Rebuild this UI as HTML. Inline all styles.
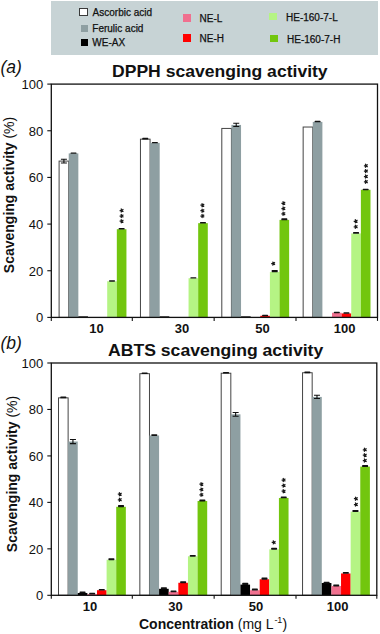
<!DOCTYPE html>
<html><head><meta charset="utf-8"><style>
html,body{margin:0;padding:0;background:#fff;width:380px;height:634px;overflow:hidden}
body{position:relative;font-family:"Liberation Sans",sans-serif;color:#111}
.t{position:absolute;white-space:nowrap;line-height:1}
.legend{position:absolute;left:51px;top:1px;width:327px;height:54px;background:#c7d3d5}
.sw{position:absolute;box-sizing:border-box}
.lt{position:absolute;font-size:10px;line-height:1;white-space:nowrap;color:#111;-webkit-text-stroke:0.25px #111}
svg{position:absolute;left:0;top:0}
</style></head><body>
<div class="legend">
 <div class="sw" style="left:28.2px;top:7.1px;width:8.7px;height:7.6px;background:#fff;border:1.2px solid #3a3a3a"></div>
 <div class="lt" style="left:41.6px;top:7.2px">Ascorbic acid</div>
 <div class="sw" style="left:30px;top:23.5px;width:7px;height:7px;background:#8e9fa2"></div>
 <div class="lt" style="left:41.3px;top:22.8px">Ferulic acid</div>
 <div class="sw" style="left:30px;top:38px;width:7px;height:7px;background:#000"></div>
 <div class="lt" style="left:41.3px;top:37.3px">WE-AX</div>
 <div class="sw" style="left:132px;top:13.3px;width:7.5px;height:7.5px;background:#f0708f"></div>
 <div class="lt" style="left:148.5px;top:12.8px">NE-L</div>
 <div class="sw" style="left:132px;top:33.1px;width:7.5px;height:7.5px;background:#ff0000"></div>
 <div class="lt" style="left:148.5px;top:32.5px">NE-H</div>
 <div class="sw" style="left:218px;top:11.5px;width:8px;height:7.5px;background:#b5f484"></div>
 <div class="lt" style="left:235px;top:11.9px">HE-160-7-L</div>
 <div class="sw" style="left:219px;top:33.7px;width:7.5px;height:7.5px;background:#72c60e"></div>
 <div class="lt" style="left:236px;top:33.5px">HE-160-7-H</div>
</div>
<div class="t" style="left:0.5px;top:58.5px;font-size:17.5px;font-style:italic">(a)</div>
<div class="t" style="left:112.2px;top:63.3px;font-size:16.5px;font-weight:bold;transform:scaleX(1.064);transform-origin:0 0">DPPH scavenging activity</div>
<div class="t" style="left:0.5px;top:335.4px;font-size:17.5px;font-style:italic">(b)</div>
<div class="t" style="left:107.8px;top:341.9px;font-size:16.5px;font-weight:bold;transform:scaleX(1.067);transform-origin:0 0">ABTS scavenging activity</div>
<svg width="380" height="634" viewBox="0 0 380 634">
<rect x="59.10" y="161.09" width="9.62" height="156.31" fill="#fff" stroke="#444" stroke-width="1"/>
<rect x="68.72" y="153.39" width="9.62" height="164.01" fill="#8e9fa2"/>
<rect x="78.34" y="316.35" width="9.62" height="1.05" fill="#000000"/>
<rect x="107.20" y="281.24" width="9.62" height="36.16" fill="#b5f484"/>
<rect x="116.82" y="229.21" width="9.62" height="88.19" fill="#72c60e"/>
<rect x="140.45" y="139.16" width="9.62" height="178.24" fill="#fff" stroke="#444" stroke-width="1"/>
<rect x="150.07" y="142.89" width="9.62" height="174.51" fill="#8e9fa2"/>
<rect x="159.69" y="316.35" width="9.62" height="1.05" fill="#000000"/>
<rect x="188.55" y="278.21" width="9.62" height="39.19" fill="#b5f484"/>
<rect x="198.17" y="223.15" width="9.62" height="94.25" fill="#72c60e"/>
<rect x="221.80" y="128.43" width="9.62" height="188.97" fill="#fff" stroke="#444" stroke-width="1"/>
<rect x="231.42" y="124.93" width="9.62" height="192.47" fill="#8e9fa2"/>
<rect x="241.04" y="316.35" width="9.62" height="1.05" fill="#000000"/>
<rect x="260.28" y="315.77" width="9.62" height="1.63" fill="#ff0000"/>
<rect x="269.90" y="271.91" width="9.62" height="45.49" fill="#b5f484"/>
<rect x="279.52" y="219.88" width="9.62" height="97.52" fill="#72c60e"/>
<rect x="303.15" y="127.03" width="9.62" height="190.37" fill="#fff" stroke="#444" stroke-width="1"/>
<rect x="312.77" y="121.89" width="9.62" height="195.51" fill="#8e9fa2"/>
<rect x="332.01" y="312.73" width="9.62" height="4.67" fill="#f0708f"/>
<rect x="341.63" y="313.43" width="9.62" height="3.97" fill="#ff0000"/>
<rect x="351.25" y="233.41" width="9.62" height="83.99" fill="#b5f484"/>
<rect x="360.87" y="189.78" width="9.62" height="127.62" fill="#72c60e"/>
<path d="M60.91 159.22H66.91M63.91 159.22V162.96M60.91 162.96H66.91" stroke="#111" stroke-width="1.1" fill="none"/>
<rect x="70.53" y="152.44" width="6" height="1.35" rx="0.6" fill="#111"/>
<rect x="109.01" y="280.17" width="6" height="1.47" rx="0.6" fill="#111"/>
<rect x="118.63" y="227.91" width="6" height="1.70" rx="0.6" fill="#111"/>
<rect x="142.26" y="137.63" width="6" height="1.93" rx="0.6" fill="#111"/>
<rect x="151.88" y="141.94" width="6" height="1.35" rx="0.6" fill="#111"/>
<rect x="190.36" y="277.14" width="6" height="1.47" rx="0.6" fill="#111"/>
<rect x="199.98" y="222.08" width="6" height="1.47" rx="0.6" fill="#111"/>
<path d="M233.23 123.29H239.23M236.23 123.29V126.56M233.23 126.56H239.23" stroke="#111" stroke-width="1.1" fill="none"/>
<rect x="262.09" y="314.70" width="6" height="1.47" rx="0.6" fill="#111"/>
<rect x="271.71" y="269.91" width="6" height="2.40" rx="0.6" fill="#111"/>
<rect x="281.33" y="218.35" width="6" height="1.93" rx="0.6" fill="#111"/>
<rect x="314.58" y="120.83" width="6" height="1.47" rx="0.6" fill="#111"/>
<rect x="333.82" y="311.67" width="6" height="1.47" rx="0.6" fill="#111"/>
<rect x="343.44" y="312.37" width="6" height="1.47" rx="0.6" fill="#111"/>
<rect x="353.06" y="231.88" width="6" height="1.93" rx="0.6" fill="#111"/>
<rect x="362.68" y="188.72" width="6" height="1.47" rx="0.6" fill="#111"/>
<rect x="58.50" y="397.85" width="9.62" height="197.45" fill="#fff" stroke="#444" stroke-width="1"/>
<rect x="68.12" y="441.52" width="9.62" height="153.78" fill="#8e9fa2"/>
<rect x="77.74" y="592.98" width="9.62" height="2.32" fill="#000000"/>
<rect x="87.36" y="594.14" width="9.62" height="1.16" fill="#f0708f"/>
<rect x="96.98" y="590.19" width="9.62" height="5.11" fill="#ff0000"/>
<rect x="106.60" y="559.76" width="9.62" height="35.54" fill="#b5f484"/>
<rect x="116.22" y="506.79" width="9.62" height="88.51" fill="#72c60e"/>
<rect x="139.85" y="373.69" width="9.62" height="221.61" fill="#fff" stroke="#444" stroke-width="1"/>
<rect x="149.47" y="435.48" width="9.62" height="159.82" fill="#8e9fa2"/>
<rect x="159.09" y="588.80" width="9.62" height="6.50" fill="#000000"/>
<rect x="168.71" y="591.82" width="9.62" height="3.48" fill="#f0708f"/>
<rect x="178.33" y="582.76" width="9.62" height="12.54" fill="#ff0000"/>
<rect x="187.95" y="556.27" width="9.62" height="39.03" fill="#b5f484"/>
<rect x="197.57" y="500.99" width="9.62" height="94.31" fill="#72c60e"/>
<rect x="221.20" y="373.22" width="9.62" height="222.08" fill="#fff" stroke="#444" stroke-width="1"/>
<rect x="230.82" y="414.34" width="9.62" height="180.96" fill="#8e9fa2"/>
<rect x="240.44" y="584.61" width="9.62" height="10.69" fill="#000000"/>
<rect x="250.06" y="590.19" width="9.62" height="5.11" fill="#f0708f"/>
<rect x="259.68" y="579.27" width="9.62" height="16.03" fill="#ff0000"/>
<rect x="269.30" y="549.30" width="9.62" height="46.00" fill="#b5f484"/>
<rect x="278.92" y="497.97" width="9.62" height="97.33" fill="#72c60e"/>
<rect x="302.55" y="372.76" width="9.62" height="222.54" fill="#fff" stroke="#444" stroke-width="1"/>
<rect x="312.17" y="396.92" width="9.62" height="198.38" fill="#8e9fa2"/>
<rect x="321.79" y="582.99" width="9.62" height="12.31" fill="#000000"/>
<rect x="331.41" y="586.01" width="9.62" height="9.29" fill="#f0708f"/>
<rect x="341.03" y="573.46" width="9.62" height="21.84" fill="#ff0000"/>
<rect x="350.65" y="511.67" width="9.62" height="83.63" fill="#b5f484"/>
<rect x="360.27" y="466.61" width="9.62" height="128.69" fill="#72c60e"/>
<rect x="60.31" y="396.55" width="6" height="1.70" rx="0.6" fill="#111"/>
<path d="M69.93 439.43H75.93M72.93 439.43V443.61M69.93 443.61H75.93" stroke="#111" stroke-width="1.1" fill="none"/>
<rect x="79.55" y="591.45" width="6" height="1.93" rx="0.6" fill="#111"/>
<rect x="89.17" y="592.84" width="6" height="1.70" rx="0.6" fill="#111"/>
<rect x="98.79" y="588.89" width="6" height="1.70" rx="0.6" fill="#111"/>
<rect x="108.41" y="558.23" width="6" height="1.93" rx="0.6" fill="#111"/>
<rect x="118.03" y="505.03" width="6" height="2.16" rx="0.6" fill="#111"/>
<rect x="141.66" y="372.39" width="6" height="1.70" rx="0.6" fill="#111"/>
<rect x="151.28" y="434.18" width="6" height="1.70" rx="0.6" fill="#111"/>
<rect x="160.90" y="587.27" width="6" height="1.93" rx="0.6" fill="#111"/>
<rect x="170.52" y="590.52" width="6" height="1.70" rx="0.6" fill="#111"/>
<rect x="180.14" y="581.23" width="6" height="1.93" rx="0.6" fill="#111"/>
<rect x="189.76" y="554.98" width="6" height="1.70" rx="0.6" fill="#111"/>
<rect x="199.38" y="499.46" width="6" height="1.93" rx="0.6" fill="#111"/>
<rect x="223.01" y="371.92" width="6" height="1.70" rx="0.6" fill="#111"/>
<path d="M232.63 412.48H238.63M235.63 412.48V416.20M232.63 416.20H238.63" stroke="#111" stroke-width="1.1" fill="none"/>
<rect x="242.25" y="582.85" width="6" height="2.16" rx="0.6" fill="#111"/>
<rect x="251.87" y="588.43" width="6" height="2.16" rx="0.6" fill="#111"/>
<rect x="261.49" y="577.51" width="6" height="2.16" rx="0.6" fill="#111"/>
<rect x="271.11" y="547.78" width="6" height="1.93" rx="0.6" fill="#111"/>
<rect x="280.73" y="496.44" width="6" height="1.93" rx="0.6" fill="#111"/>
<rect x="304.36" y="371.46" width="6" height="1.70" rx="0.6" fill="#111"/>
<path d="M313.98 395.29H319.98M316.98 395.29V398.54M313.98 398.54H319.98" stroke="#111" stroke-width="1.1" fill="none"/>
<rect x="323.60" y="581.69" width="6" height="1.70" rx="0.6" fill="#111"/>
<rect x="333.22" y="584.48" width="6" height="1.93" rx="0.6" fill="#111"/>
<rect x="342.84" y="571.93" width="6" height="1.93" rx="0.6" fill="#111"/>
<rect x="352.46" y="509.91" width="6" height="2.16" rx="0.6" fill="#111"/>
<rect x="362.08" y="465.08" width="6" height="1.93" rx="0.6" fill="#111"/>
<rect x="51.3" y="84.1" width="326.2" height="233.29999999999998" fill="none" stroke="#111" stroke-width="1.3"/>
<line x1="47.3" y1="317.40" x2="51.3" y2="317.40" stroke="#111" stroke-width="1.1"/>
<line x1="47.3" y1="270.74" x2="51.3" y2="270.74" stroke="#111" stroke-width="1.1"/>
<line x1="47.3" y1="224.08" x2="51.3" y2="224.08" stroke="#111" stroke-width="1.1"/>
<line x1="47.3" y1="177.42" x2="51.3" y2="177.42" stroke="#111" stroke-width="1.1"/>
<line x1="47.3" y1="130.76" x2="51.3" y2="130.76" stroke="#111" stroke-width="1.1"/>
<line x1="47.3" y1="84.10" x2="51.3" y2="84.10" stroke="#111" stroke-width="1.1"/>
<line x1="51.30" y1="317.4" x2="51.30" y2="320.9" stroke="#111" stroke-width="1.1"/>
<line x1="132.30" y1="317.4" x2="132.30" y2="320.9" stroke="#111" stroke-width="1.1"/>
<line x1="214.15" y1="317.4" x2="214.15" y2="320.9" stroke="#111" stroke-width="1.1"/>
<line x1="296.00" y1="317.4" x2="296.00" y2="320.9" stroke="#111" stroke-width="1.1"/>
<line x1="377.50" y1="317.4" x2="377.50" y2="320.9" stroke="#111" stroke-width="1.1"/>
<rect x="51.3" y="363.0" width="325.5" height="232.29999999999995" fill="none" stroke="#111" stroke-width="1.3"/>
<line x1="47.3" y1="595.30" x2="51.3" y2="595.30" stroke="#111" stroke-width="1.1"/>
<line x1="47.3" y1="548.84" x2="51.3" y2="548.84" stroke="#111" stroke-width="1.1"/>
<line x1="47.3" y1="502.38" x2="51.3" y2="502.38" stroke="#111" stroke-width="1.1"/>
<line x1="47.3" y1="455.92" x2="51.3" y2="455.92" stroke="#111" stroke-width="1.1"/>
<line x1="47.3" y1="409.46" x2="51.3" y2="409.46" stroke="#111" stroke-width="1.1"/>
<line x1="47.3" y1="363.00" x2="51.3" y2="363.00" stroke="#111" stroke-width="1.1"/>
<line x1="51.30" y1="595.3" x2="51.30" y2="598.8" stroke="#111" stroke-width="1.1"/>
<line x1="132.30" y1="595.3" x2="132.30" y2="598.8" stroke="#111" stroke-width="1.1"/>
<line x1="214.15" y1="595.3" x2="214.15" y2="598.8" stroke="#111" stroke-width="1.1"/>
<line x1="296.00" y1="595.3" x2="296.00" y2="598.8" stroke="#111" stroke-width="1.1"/>
<line x1="376.80" y1="595.3" x2="376.80" y2="598.8" stroke="#111" stroke-width="1.1"/>
<path d="M121.70 210.50L119.60 210.50M121.70 210.50L121.05 208.50M121.70 210.50L123.40 209.27M121.70 210.50L123.40 211.73M121.70 210.50L121.05 212.50" stroke="#1a1a1a" stroke-width="1.25" fill="none"/>
<path d="M121.70 216.00L119.60 216.00M121.70 216.00L121.05 214.00M121.70 216.00L123.40 214.77M121.70 216.00L123.40 217.23M121.70 216.00L121.05 218.00" stroke="#1a1a1a" stroke-width="1.25" fill="none"/>
<path d="M121.70 221.20L119.60 221.20M121.70 221.20L121.05 219.20M121.70 221.20L123.40 219.97M121.70 221.20L123.40 222.43M121.70 221.20L121.05 223.20" stroke="#1a1a1a" stroke-width="1.25" fill="none"/>
<path d="M202.50 205.20L200.40 205.20M202.50 205.20L201.85 203.20M202.50 205.20L204.20 203.97M202.50 205.20L204.20 206.43M202.50 205.20L201.85 207.20" stroke="#1a1a1a" stroke-width="1.25" fill="none"/>
<path d="M202.50 210.70L200.40 210.70M202.50 210.70L201.85 208.70M202.50 210.70L204.20 209.47M202.50 210.70L204.20 211.93M202.50 210.70L201.85 212.70" stroke="#1a1a1a" stroke-width="1.25" fill="none"/>
<path d="M202.50 216.00L200.40 216.00M202.50 216.00L201.85 214.00M202.50 216.00L204.20 214.77M202.50 216.00L204.20 217.23M202.50 216.00L201.85 218.00" stroke="#1a1a1a" stroke-width="1.25" fill="none"/>
<path d="M273.30 263.60L271.20 263.60M273.30 263.60L272.65 261.60M273.30 263.60L275.00 262.37M273.30 263.60L275.00 264.83M273.30 263.60L272.65 265.60" stroke="#1a1a1a" stroke-width="1.25" fill="none"/>
<path d="M283.50 203.30L281.40 203.30M283.50 203.30L282.85 201.30M283.50 203.30L285.20 202.07M283.50 203.30L285.20 204.53M283.50 203.30L282.85 205.30" stroke="#1a1a1a" stroke-width="1.25" fill="none"/>
<path d="M283.50 208.50L281.40 208.50M283.50 208.50L282.85 206.50M283.50 208.50L285.20 207.27M283.50 208.50L285.20 209.73M283.50 208.50L282.85 210.50" stroke="#1a1a1a" stroke-width="1.25" fill="none"/>
<path d="M283.50 213.80L281.40 213.80M283.50 213.80L282.85 211.80M283.50 213.80L285.20 212.57M283.50 213.80L285.20 215.03M283.50 213.80L282.85 215.80" stroke="#1a1a1a" stroke-width="1.25" fill="none"/>
<path d="M355.80 221.30L353.70 221.30M355.80 221.30L355.15 219.30M355.80 221.30L357.50 220.07M355.80 221.30L357.50 222.53M355.80 221.30L355.15 223.30" stroke="#1a1a1a" stroke-width="1.25" fill="none"/>
<path d="M355.80 226.80L353.70 226.80M355.80 226.80L355.15 224.80M355.80 226.80L357.50 225.57M355.80 226.80L357.50 228.03M355.80 226.80L355.15 228.80" stroke="#1a1a1a" stroke-width="1.25" fill="none"/>
<path d="M366.00 165.80L363.90 165.80M366.00 165.80L365.35 163.80M366.00 165.80L367.70 164.57M366.00 165.80L367.70 167.03M366.00 165.80L365.35 167.80" stroke="#1a1a1a" stroke-width="1.25" fill="none"/>
<path d="M366.00 171.10L363.90 171.10M366.00 171.10L365.35 169.10M366.00 171.10L367.70 169.87M366.00 171.10L367.70 172.33M366.00 171.10L365.35 173.10" stroke="#1a1a1a" stroke-width="1.25" fill="none"/>
<path d="M366.00 176.50L363.90 176.50M366.00 176.50L365.35 174.50M366.00 176.50L367.70 175.27M366.00 176.50L367.70 177.73M366.00 176.50L365.35 178.50" stroke="#1a1a1a" stroke-width="1.25" fill="none"/>
<path d="M366.00 181.80L363.90 181.80M366.00 181.80L365.35 179.80M366.00 181.80L367.70 180.57M366.00 181.80L367.70 183.03M366.00 181.80L365.35 183.80" stroke="#1a1a1a" stroke-width="1.25" fill="none"/>
<path d="M119.90 494.20L117.80 494.20M119.90 494.20L119.25 492.20M119.90 494.20L121.60 492.97M119.90 494.20L121.60 495.43M119.90 494.20L119.25 496.20" stroke="#1a1a1a" stroke-width="1.25" fill="none"/>
<path d="M119.90 499.80L117.80 499.80M119.90 499.80L119.25 497.80M119.90 499.80L121.60 498.57M119.90 499.80L121.60 501.03M119.90 499.80L119.25 501.80" stroke="#1a1a1a" stroke-width="1.25" fill="none"/>
<path d="M201.50 484.20L199.40 484.20M201.50 484.20L200.85 482.20M201.50 484.20L203.20 482.97M201.50 484.20L203.20 485.43M201.50 484.20L200.85 486.20" stroke="#1a1a1a" stroke-width="1.25" fill="none"/>
<path d="M201.50 489.60L199.40 489.60M201.50 489.60L200.85 487.60M201.50 489.60L203.20 488.37M201.50 489.60L203.20 490.83M201.50 489.60L200.85 491.60" stroke="#1a1a1a" stroke-width="1.25" fill="none"/>
<path d="M201.50 494.80L199.40 494.80M201.50 494.80L200.85 492.80M201.50 494.80L203.20 493.57M201.50 494.80L203.20 496.03M201.50 494.80L200.85 496.80" stroke="#1a1a1a" stroke-width="1.25" fill="none"/>
<path d="M273.80 542.40L271.70 542.40M273.80 542.40L273.15 540.40M273.80 542.40L275.50 541.17M273.80 542.40L275.50 543.63M273.80 542.40L273.15 544.40" stroke="#1a1a1a" stroke-width="1.25" fill="none"/>
<path d="M283.70 480.00L281.60 480.00M283.70 480.00L283.05 478.00M283.70 480.00L285.40 478.77M283.70 480.00L285.40 481.23M283.70 480.00L283.05 482.00" stroke="#1a1a1a" stroke-width="1.25" fill="none"/>
<path d="M283.70 485.60L281.60 485.60M283.70 485.60L283.05 483.60M283.70 485.60L285.40 484.37M283.70 485.60L285.40 486.83M283.70 485.60L283.05 487.60" stroke="#1a1a1a" stroke-width="1.25" fill="none"/>
<path d="M283.70 491.20L281.60 491.20M283.70 491.20L283.05 489.20M283.70 491.20L285.40 489.97M283.70 491.20L285.40 492.43M283.70 491.20L283.05 493.20" stroke="#1a1a1a" stroke-width="1.25" fill="none"/>
<path d="M356.00 498.70L353.90 498.70M356.00 498.70L355.35 496.70M356.00 498.70L357.70 497.47M356.00 498.70L357.70 499.93M356.00 498.70L355.35 500.70" stroke="#1a1a1a" stroke-width="1.25" fill="none"/>
<path d="M356.00 504.50L353.90 504.50M356.00 504.50L355.35 502.50M356.00 504.50L357.70 503.27M356.00 504.50L357.70 505.73M356.00 504.50L355.35 506.50" stroke="#1a1a1a" stroke-width="1.25" fill="none"/>
<path d="M364.90 449.80L362.80 449.80M364.90 449.80L364.25 447.80M364.90 449.80L366.60 448.57M364.90 449.80L366.60 451.03M364.90 449.80L364.25 451.80" stroke="#1a1a1a" stroke-width="1.25" fill="none"/>
<path d="M364.90 455.20L362.80 455.20M364.90 455.20L364.25 453.20M364.90 455.20L366.60 453.97M364.90 455.20L366.60 456.43M364.90 455.20L364.25 457.20" stroke="#1a1a1a" stroke-width="1.25" fill="none"/>
<path d="M364.90 460.50L362.80 460.50M364.90 460.50L364.25 458.50M364.90 460.50L366.60 459.27M364.90 460.50L366.60 461.73M364.90 460.50L364.25 462.50" stroke="#1a1a1a" stroke-width="1.25" fill="none"/>
</svg>
<div class="t" style="right:336.7px;top:311.20px;font-size:13px">0</div>
<div class="t" style="right:336.7px;top:264.54px;font-size:13px">20</div>
<div class="t" style="right:336.7px;top:217.88px;font-size:13px">40</div>
<div class="t" style="right:336.7px;top:171.22px;font-size:13px">60</div>
<div class="t" style="right:336.7px;top:124.56px;font-size:13px">80</div>
<div class="t" style="right:336.7px;top:77.90px;font-size:13px">100</div>
<div class="t" style="right:336.7px;top:589.10px;font-size:13px">0</div>
<div class="t" style="right:336.7px;top:542.64px;font-size:13px">20</div>
<div class="t" style="right:336.7px;top:496.18px;font-size:13px">40</div>
<div class="t" style="right:336.7px;top:449.72px;font-size:13px">60</div>
<div class="t" style="right:336.7px;top:403.26px;font-size:13px">80</div>
<div class="t" style="right:336.7px;top:356.80px;font-size:13px">100</div>
<div class="t" style="left:8.8px;top:194.5px;font-size:14px;transform:translate(-50%,-50%) rotate(-90deg)"><b>Scavenging activity</b> (%)</div>
<div class="t" style="left:12.3px;top:473.5px;font-size:14px;transform:translate(-50%,-50%) rotate(-90deg)"><b>Scavenging activity</b> (%)</div>
<div class="t" style="left:96.4px;top:322.0px;font-size:13px;font-weight:bold;transform:translateX(-50%)">10</div>
<div class="t" style="left:182.0px;top:322.0px;font-size:13px;font-weight:bold;transform:translateX(-50%)">30</div>
<div class="t" style="left:262.4px;top:322.0px;font-size:13px;font-weight:bold;transform:translateX(-50%)">50</div>
<div class="t" style="left:344.7px;top:322.0px;font-size:13px;font-weight:bold;transform:translateX(-50%)">100</div>
<div class="t" style="left:90.1px;top:600.3px;font-size:13px;font-weight:bold;transform:translateX(-50%)">10</div>
<div class="t" style="left:175.6px;top:600.3px;font-size:13px;font-weight:bold;transform:translateX(-50%)">30</div>
<div class="t" style="left:256.0px;top:600.3px;font-size:13px;font-weight:bold;transform:translateX(-50%)">50</div>
<div class="t" style="left:337.7px;top:600.3px;font-size:13px;font-weight:bold;transform:translateX(-50%)">100</div>
<div class="t" style="left:139px;top:617px;font-size:14px"><b>Concentration</b> (mg L<span style="font-size:9px;position:relative;top:-6.3px;margin-left:0.8px">-1</span>)</div>
</body></html>
